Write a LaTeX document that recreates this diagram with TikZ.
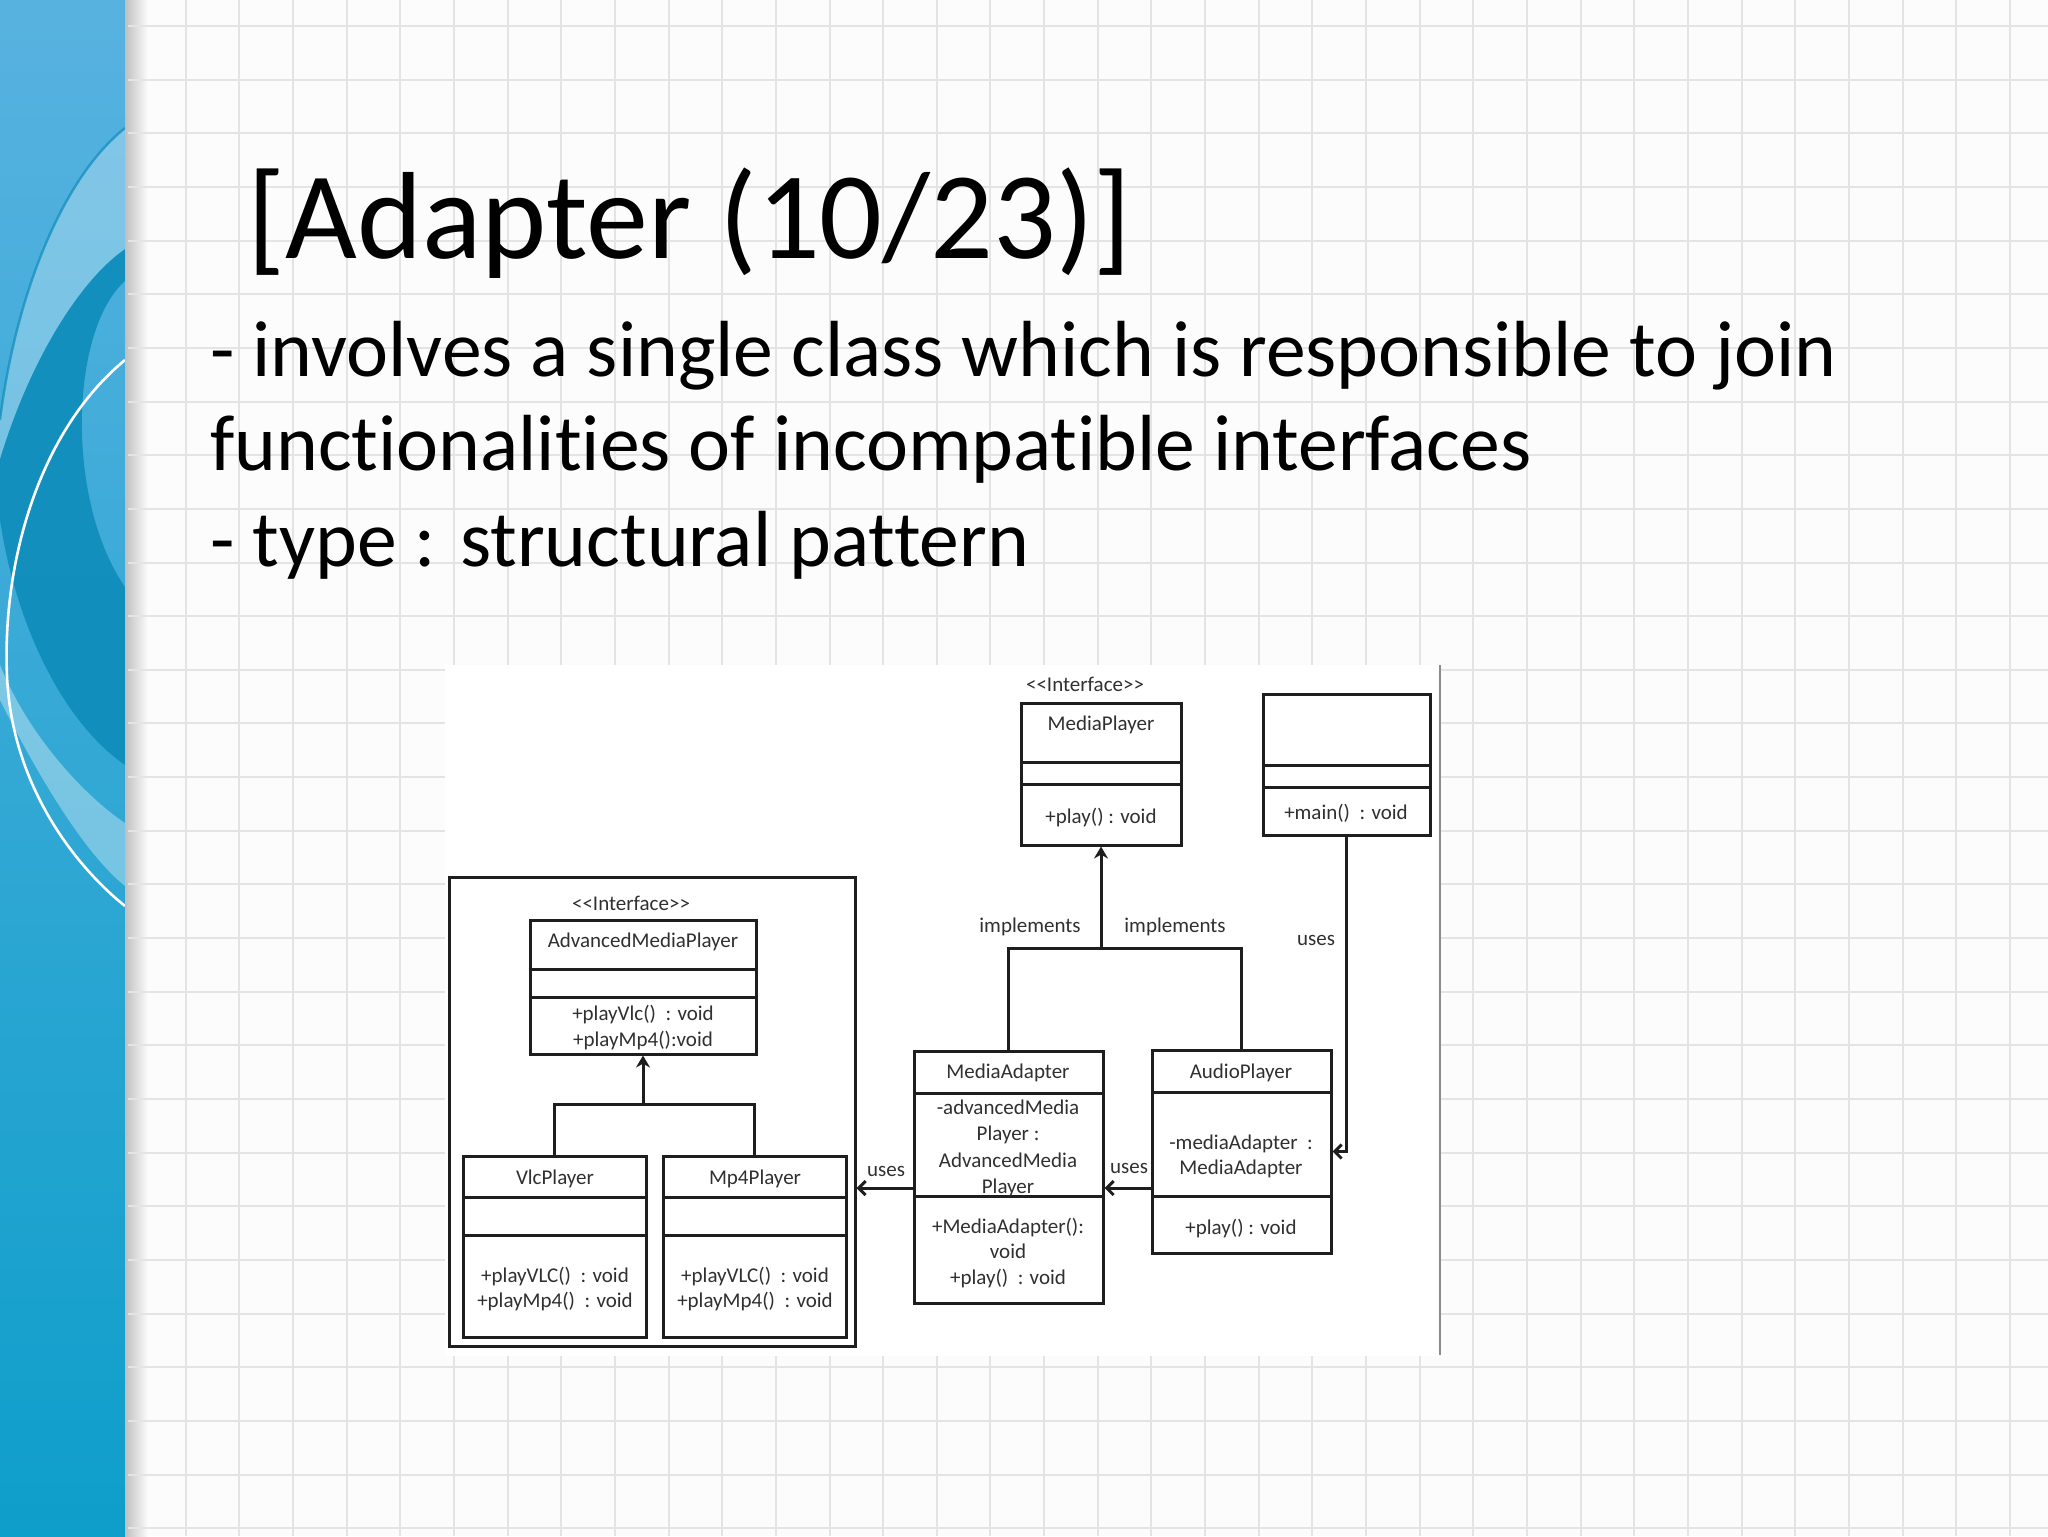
\documentclass[tikz,border=0pt]{standalone}
\usepackage{fontspec}
\setmainfont{Carlito}[Ligatures={NoCommon}]
\usetikzlibrary{arrows.meta,fit,calc}
\definecolor{bandtop}{RGB}{88,178,224}
\definecolor{bandbot}{RGB}{14,158,202}
\definecolor{banddark}{RGB}{14,140,186}
\definecolor{gridc}{RGB}{228,228,228}
\definecolor{umlline}{RGB}{30,30,30}
\definecolor{umltext}{RGB}{48,48,48}
\definecolor{frameline}{RGB}{140,140,140}
\newcommand\umlclass[7]{%
  \node[classbox, fit={(#2,#3) (#4,#5)}] (#1) {};
  \draw[sepline] (#1.west |- 0,#6) -- (#1.east |- 0,#6);
  \draw[sepline] (#1.west |- 0,#7) -- (#1.east |- 0,#7);
}
\newcommand\lab[3]{\node[lbl] (#1) at (#2) {#3};}
\newcommand\stereo{<\kern0pt<Interface>\kern0pt>}
\begin{document}
\begin{tikzpicture}[x=0.5pt,y=-0.5pt,
  gridline/.style={draw=gridc, line width=1pt},
  classbox/.style={draw=umlline, line width=1.5pt, inner sep=0pt},
  sepline/.style={draw=umlline, line width=1.5pt},
  conn/.style={draw=umlline, line width=1.5pt},
  gen/.style={conn, -{Stealth[length=6pt,width=7pt]}},
  dep/.style={conn, -{Straight Barb[length=3.5pt,width=7pt]}},
  lbl/.style={font=\fontsize{10.5}{13}\selectfont, text=umltext, inner sep=0pt, anchor=base},
  slidetitle/.style={anchor=base west, inner sep=0pt, font=\fontsize{62}{74}\selectfont},
  bodytext/.style={anchor=base west, inner sep=0pt, font=\fontsize{39.8}{48}\selectfont},
]
\useasboundingbox (0,0) rectangle (2048,1536);
% page background
\fill[white!98!gray] (0,0) rectangle (2048,1536);
% left band
\shade[top color=bandtop, bottom color=bandbot] (0,0) rectangle (125,1536);
\fill[banddark, opacity=0.9] (0,459) .. controls (30,360) and (80,280) .. (125,249)
   -- (125,281) .. controls (70,330) and (65,500) .. (125,587)
   -- (125,765) .. controls (60,720) and (15,620) .. (0,520) -- cycle;
\fill[white, opacity=0.28] (125,128) .. controls (60,180) and (15,300) .. (0,420)
   -- (0,459) .. controls (30,360) and (80,280) .. (125,249) -- cycle;
\draw[banddark, line width=1.2pt, opacity=0.7] (125,128) .. controls (60,180) and (15,300) .. (0,420);
\fill[white, opacity=0.35] (0,665) .. controls (30,740) and (90,800) .. (125,823)
   -- (125,886) .. controls (80,850) and (30,760) .. (0,700) -- cycle;
\draw[white, line width=1.3pt] (125,360) .. controls (40,430) and (2,560) .. (7,676)
   .. controls (12,790) and (80,870) .. (125,906);
% band shadow
\shade[left color=black!25, right color=white!98!gray] (125,0) rectangle (148,1536);
% grid
\foreach \i in {0,...,34} { \draw[gridline] ({185.7+53.65*\i},0) -- ({185.7+53.65*\i},1536); }
\foreach \j in {0,...,28} { \draw[gridline] (128,{26+53.65*\j}) -- (2048,{26+53.65*\j}); }
% title and body
\node[slidetitle] (title) at (247,258) {[Adapter (10/23)]};
\node[bodytext] (l1) at (210,376) {- involves a single class which is responsible to join};
\node[bodytext] (l2) at (210,470) {functionalities of incompatible interfaces};
\node[bodytext] (l3) at (210,566) {- type : structural pattern};
% diagram background
\fill[white] (445,665) rectangle (1439,1356);
\draw[frameline, line width=1pt] (1439.5,665) -- (1439.5,1355);
% package box
\node[classbox, fit={(449,877) (855,1346)}] (pkg) {};
% classes
\umlclass{amp}{530}{920}{756}{1054}{969}{997}
\umlclass{vlc}{463}{1156}{646}{1337}{1197}{1235}
\umlclass{mp4}{663}{1156}{846}{1337}{1197}{1235}
\umlclass{mp}{1021}{703}{1181}{845}{762}{784}
\umlclass{main}{1263}{694}{1430}{835}{765}{787}
\umlclass{ma}{914}{1051}{1103}{1303}{1093}{1196}
\umlclass{ap}{1152}{1050}{1331}{1253}{1092}{1196}
% texts
\lab{ampst}{631,910}{\stereo}
\lab{ampn}{643,947}{AdvancedMediaPlayer}
\lab{ampm1}{643,1020}{+playVlc() \ : void}
\lab{ampm2}{643,1046}{+playMp4():void}
\lab{vlcn}{555,1184}{VlcPlayer}
\lab{vlcm1}{555,1282}{+playVLC() \ : void}
\lab{vlcm2}{555,1307}{+playMp4() \ : void}
\lab{mp4n}{755,1184}{Mp4Player}
\lab{mp4m1}{755,1282}{+playVLC() \ : void}
\lab{mp4m2}{755,1307}{+playMp4() \ : void}
\lab{mpst}{1085,691}{\stereo}
\lab{mpn}{1101,730}{MediaPlayer}
\lab{mpm}{1101,823}{+play() : void}
\lab{mainm}{1346,819}{+main() \ : void}
\lab{man}{1008,1078}{MediaAdapter}
\lab{maa1}{1008,1114}{-advancedMedia}
\lab{maa2}{1008,1140}{Player :}
\lab{maa3}{1008,1167}{AdvancedMedia}
\lab{maa4}{1008,1193}{Player}
\lab{mam1}{1008,1233}{+MediaAdapter():}
\lab{mam2}{1008,1258}{void}
\lab{mam3}{1008,1284}{+play() \ : void}
\lab{apn}{1241,1078}{AudioPlayer}
\lab{apa1}{1241,1149}{-mediaAdapter \ :}
\lab{apa2}{1241,1174}{MediaAdapter}
\lab{apm}{1241,1234}{+play() : void}
% connectors
\coordinate (j1) at (643,1104);
\draw[conn] (vlc.north) |- (j1) -| (mp4.north);
\draw[gen] (j1) -- (amp.south);
\coordinate (j2) at (1101,948);
\draw[conn] (ma.north) |- (j2) -| (ap.north);
\draw[gen] (j2) -- (mp.south);
\draw[dep] (main.south) |- (ap.east);
\coordinate (u1) at (0,1188);
\draw[dep] (ap.west |- u1) -- (ma.east |- u1);
\draw[dep] (ma.west |- u1) -- (pkg.east |- u1);
% connector labels
\lab{impl1}{1030,932}{implements}
\lab{impl2}{1175,932}{implements}
\lab{uses1}{1316,945}{uses}
\lab{uses2}{1129,1173}{uses}
\lab{uses3}{886,1176}{uses}
\end{tikzpicture}
\end{document}
